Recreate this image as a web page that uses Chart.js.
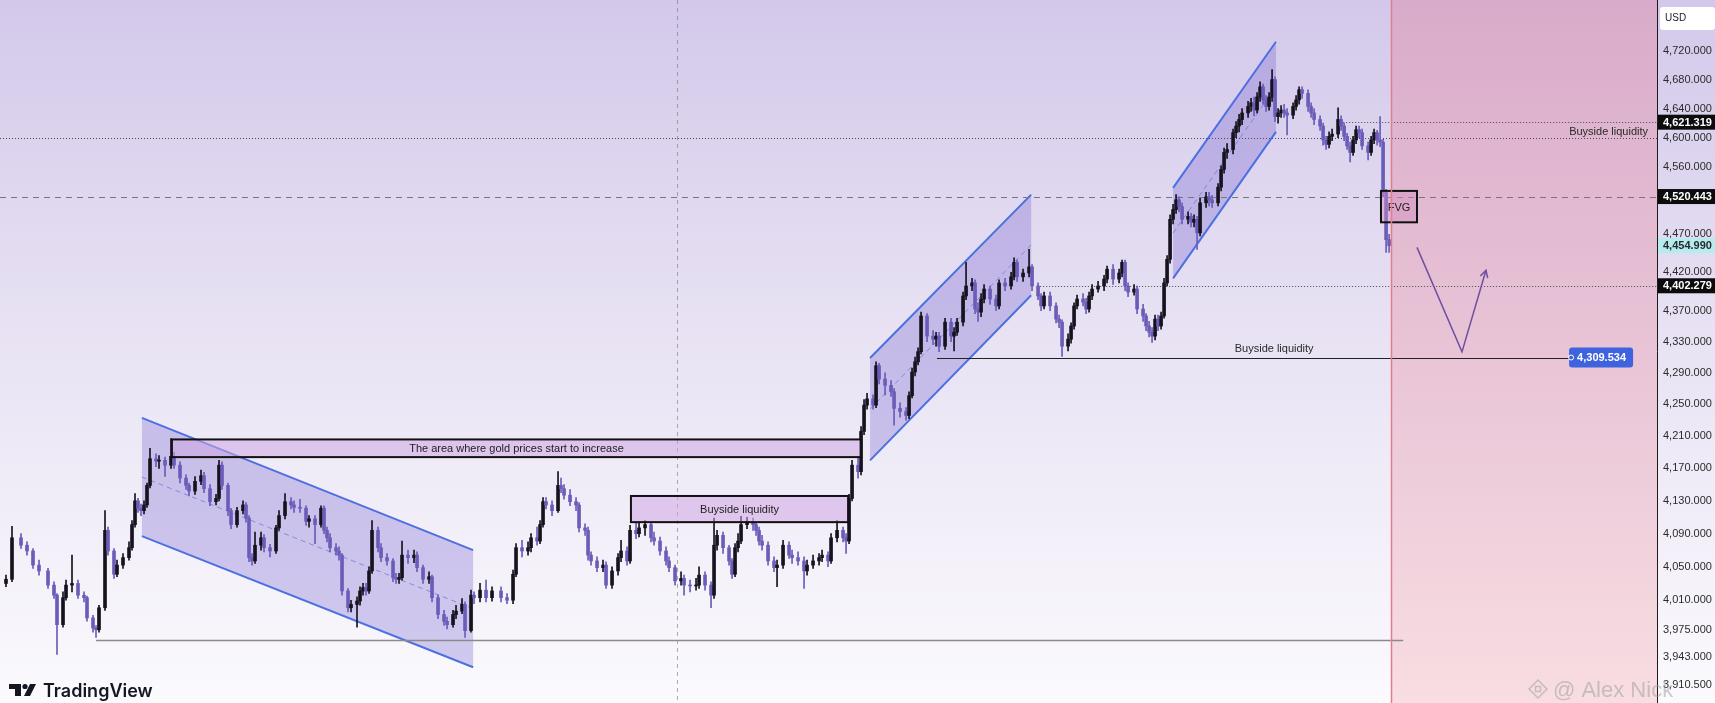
<!DOCTYPE html>
<html>
<head>
<meta charset="utf-8">
<title>XAUUSD - TradingView</title>
<script src="https://cdn.jsdelivr.net/npm/chart.js@4.4.1/dist/chart.umd.min.js"></script>
<style>
    html, body { margin: 0; padding: 0; background: #ffffff; }
    #wrap { position: relative; width: 1715px; height: 703px; }
</style>
</head>
<body>
<div id="wrap"><canvas id="myChart"></canvas></div>
<script>
// bar number of each candle (time axis), and its close / high / low
var bars = [
    2, 4, 7, 9, 11, 13, 16, 18, 19, 21,
    22, 24, 26, 28, 29, 31, 32, 33, 35, 36,
    38, 39, 41, 43, 44, 45, 46, 47, 48, 49,
    50, 52, 53, 55, 57, 58, 60, 62, 63, 65,
    67, 68, 70, 72, 73, 74, 76, 77, 79, 81,
    82, 83, 84, 85, 87, 88, 90, 92, 93, 95,
    97, 98, 100, 102, 103, 105, 107, 108, 109, 110,
    112, 113, 114, 116, 117, 119, 120, 121, 122, 123,
    124, 126, 127, 129, 131, 132, 133, 134, 136, 138,
    139, 141, 143, 144, 146, 148, 149, 151, 152, 154,
    155, 157, 158, 160, 162, 164, 167, 169, 171, 172,
    174, 176, 177, 179, 180, 181, 182, 184, 186, 187,
    188, 190, 192, 193, 195, 196, 197, 199, 201, 202,
    204, 206, 207, 209, 210, 212, 213, 215, 217, 218,
    220, 222, 223, 225, 227, 228, 230, 232, 233, 235,
    237, 238, 239, 241, 243, 244, 245, 246, 247, 249,
    251, 252, 253, 254, 256, 258, 259, 261, 263, 264,
    266, 268, 269, 271, 273, 274, 276, 277, 279, 281,
    282, 283, 284, 286, 287, 288, 289, 291, 292, 293,
    295, 297, 298, 300, 302, 303, 304, 305, 306, 307,
    309, 311, 312, 313, 315, 317, 318, 319, 321, 322,
    324, 325, 326, 327, 328, 330, 332, 333, 335, 337,
    338, 339, 341, 343, 344, 346, 347, 348, 350, 352,
    353, 354, 356, 357, 358, 359, 361, 362, 363, 364,
    366, 368, 369, 371, 373, 374, 375, 376, 378, 379,
    381, 382, 383, 384, 385, 386, 387, 388, 389, 390,
    391, 392, 393, 394, 396, 397, 398, 399, 400, 402,
    403, 404, 406, 407, 408, 409, 411, 412, 413, 414,
    416, 417, 418, 419, 420, 421, 422, 423, 424, 425,
    426, 427, 428, 429, 431, 432, 433, 434, 436, 437,
    438, 440, 441, 442, 443, 444, 446, 447, 448, 449,
    450, 451, 452, 453, 454, 456, 457, 458, 459, 460,
    461, 462, 463
];
var closes = [
    4035, 4085, 4076, 4069, 4052, 4045, 4028, 4016, 3981, 4013,
    4028, 4030, 4016, 4013, 3989, 3977, 3975, 4001, 4094, 4069,
    4041, 4052, 4061, 4073, 4101, 4130, 4121, 4118, 4125, 4149,
    4182, 4179, 4180, 4174, 4185, 4174, 4158, 4149, 4142, 4154,
    4161, 4145, 4129, 4133, 4174, 4149, 4118, 4101, 4118, 4125,
    4109, 4061, 4057, 4076, 4085, 4073, 4069, 4097, 4112, 4129,
    4125, 4122, 4121, 4105, 4108, 4101, 4121, 4094, 4085, 4073,
    4069, 4064, 4021, 4001, 4005, 4009, 4021, 4025, 4021, 4045,
    4094, 4073, 4061, 4057, 4037, 4035, 4037, 4064, 4061, 4064,
    4049, 4035, 4038, 4013, 3993, 3985, 3981, 3993, 3997, 4005,
    3974, 4016, 4013, 4022, 4013, 4021, 4013, 4010, 4041, 4073,
    4069, 4073, 4085, 4081, 4101, 4129, 4125, 4118, 4149, 4145,
    4137, 4129, 4125, 4097, 4094, 4064, 4057, 4049, 4052, 4028,
    4045, 4061, 4069, 4057, 4094, 4090, 4097, 4101, 4085, 4081,
    4069, 4057, 4049, 4033, 4036, 4028, 4027, 4028, 4040, 4028,
    4016, 4076, 4088, 4073, 4057, 4041, 4073, 4081, 4101, 4105,
    4101, 4094, 4081, 4076, 4057, 4049, 4052, 4076, 4064, 4061,
    4057, 4045, 4052, 4057, 4061, 4064, 4057, 4085, 4094, 4085,
    4081, 4133, 4174, 4166, 4216, 4249, 4257, 4249, 4299, 4282,
    4274, 4266, 4245, 4241, 4236, 4261, 4291, 4304, 4317, 4363,
    4337, 4333, 4337, 4324, 4355, 4337, 4342, 4355, 4389, 4402,
    4406, 4372, 4368, 4385, 4398, 4385, 4376, 4406, 4402, 4414,
    4433, 4414, 4419, 4427, 4402, 4389, 4376, 4389, 4376, 4359,
    4355, 4324, 4333, 4350, 4376, 4385, 4381, 4372, 4389, 4398,
    4402, 4411, 4424, 4411, 4419, 4433, 4402, 4394, 4398, 4372,
    4363, 4350, 4342, 4337, 4359, 4350, 4363, 4406, 4437, 4490,
    4503, 4516, 4507, 4490, 4494, 4486, 4490, 4472, 4512, 4520,
    4516, 4512, 4533, 4557, 4580, 4584, 4607, 4616, 4625, 4634,
    4643, 4648, 4638, 4656, 4670, 4652, 4643, 4656, 4680, 4629,
    4634, 4638, 4634, 4631, 4643, 4652, 4666, 4661, 4643, 4634,
    4625, 4616, 4597, 4591, 4602, 4605, 4625, 4616, 4602, 4589,
    4580, 4597, 4611, 4607, 4589, 4580, 4597, 4607, 4597, 4594,
    4526, 4463, 4455
];
var highs = [
    4040, 4099, 4090, 4080, 4072, 4058, 4048, 4032, 4018, 4020,
    4034, 4064, 4034, 4020, 4015, 3992, 3980, 4004, 4118, 4098,
    4072, 4058, 4066, 4080, 4106, 4139, 4133, 4126, 4130, 4152,
    4195, 4188, 4186, 4184, 4207, 4190, 4178, 4162, 4152, 4160,
    4168, 4165, 4150, 4138, 4180, 4178, 4152, 4121, 4122, 4130,
    4128, 4112, 4066, 4092, 4092, 4089, 4077, 4100, 4118, 4139,
    4134, 4130, 4132, 4124, 4112, 4112, 4124, 4124, 4098, 4090,
    4078, 4074, 4066, 4024, 4010, 4014, 4026, 4030, 4030, 4050,
    4106, 4098, 4078, 4066, 4060, 4042, 4042, 4081, 4070, 4070,
    4068, 4052, 4044, 4040, 4016, 3998, 3990, 3998, 4004, 4012,
    4008, 4022, 4020, 4030, 4034, 4026, 4026, 4018, 4046, 4078,
    4082, 4080, 4090, 4098, 4106, 4134, 4134, 4130, 4166, 4158,
    4150, 4144, 4134, 4128, 4102, 4098, 4068, 4062, 4058, 4056,
    4050, 4066, 4082, 4074, 4100, 4104, 4104, 4106, 4104, 4092,
    4086, 4074, 4062, 4052, 4044, 4040, 4034, 4036, 4050, 4044,
    4032, 4109, 4094, 4092, 4076, 4060, 4078, 4090, 4111, 4110,
    4109, 4104, 4098, 4088, 4080, 4062, 4058, 4082, 4080, 4070,
    4068, 4062, 4058, 4064, 4066, 4070, 4068, 4090, 4106, 4098,
    4090, 4138, 4180, 4184, 4222, 4256, 4264, 4262, 4304, 4302,
    4290, 4280, 4270, 4252, 4246, 4266, 4296, 4310, 4322, 4368,
    4366, 4344, 4342, 4342, 4360, 4360, 4348, 4360, 4394, 4433,
    4412, 4410, 4380, 4392, 4404, 4402, 4390, 4410, 4412, 4420,
    4439, 4436, 4424, 4450, 4430, 4406, 4392, 4394, 4394, 4380,
    4364, 4358, 4340, 4354, 4380, 4390, 4392, 4386, 4394, 4404,
    4408, 4416, 4428, 4430, 4424, 4436, 4436, 4406, 4404, 4402,
    4378, 4366, 4356, 4348, 4364, 4364, 4368, 4412, 4442, 4496,
    4510, 4523, 4520, 4512, 4500, 4498, 4496, 4494, 4518, 4526,
    4526, 4522, 4538, 4562, 4586, 4592, 4612, 4622, 4632, 4640,
    4650, 4654, 4656, 4662, 4677, 4674, 4658, 4662, 4694, 4684,
    4640, 4644, 4646, 4640, 4648, 4658, 4670, 4670, 4666, 4648,
    4640, 4630, 4620, 4602, 4608, 4612, 4641, 4630, 4620, 4606,
    4594, 4602, 4616, 4616, 4612, 4594, 4602, 4612, 4610, 4629,
    4598, 4530, 4470
];
var lows = [
    4026, 4032, 4072, 4064, 4048, 4040, 4024, 4012, 3946, 3978,
    4010, 4020, 4012, 4008, 3985, 3972, 3966, 3972, 3998, 4064,
    4036, 4038, 4048, 4058, 4070, 4098, 4116, 4112, 4114, 4122,
    4146, 4172, 4170, 4160, 4170, 4170, 4152, 4144, 4136, 4138,
    4150, 4140, 4124, 4125, 4130, 4144, 4112, 4096, 4098, 4114,
    4104, 4056, 4052, 4054, 4070, 4068, 4062, 4066, 4094, 4108,
    4120, 4116, 4116, 4100, 4098, 4078, 4098, 4090, 4080, 4068,
    4064, 4058, 4016, 3996, 3996, 3978, 4004, 4016, 4016, 4018,
    4042, 4068, 4056, 4052, 4032, 4030, 4030, 4034, 4054, 4055,
    4044, 4030, 4030, 4008, 3988, 3980, 3976, 3978, 3988, 3994,
    3966, 3972, 4006, 4008, 4008, 4009, 4008, 4006, 4006, 4038,
    4062, 4064, 4068, 4076, 4078, 4098, 4120, 4112, 4116, 4140,
    4132, 4124, 4118, 4092, 4088, 4058, 4052, 4044, 4044, 4024,
    4024, 4040, 4056, 4052, 4054, 4084, 4086, 4088, 4080, 4076,
    4064, 4052, 4044, 4028, 4028, 4016, 4020, 4022, 4024, 4022,
    4001, 4012, 4070, 4066, 4052, 4036, 4038, 4068, 4078, 4096,
    4094, 4088, 4076, 4070, 4052, 4044, 4026, 4048, 4060, 4054,
    4052, 4024, 4040, 4048, 4052, 4056, 4050, 4054, 4080, 4080,
    4066, 4078, 4130, 4158, 4162, 4212, 4244, 4244, 4246, 4276,
    4262, 4260, 4224, 4234, 4230, 4232, 4258, 4286, 4300, 4314,
    4330, 4326, 4324, 4317, 4320, 4330, 4318, 4338, 4350, 4384,
    4396, 4366, 4356, 4362, 4380, 4378, 4370, 4372, 4396, 4398,
    4410, 4408, 4408, 4414, 4396, 4384, 4370, 4372, 4370, 4354,
    4348, 4311, 4318, 4328, 4346, 4372, 4376, 4366, 4368, 4384,
    4394, 4396, 4406, 4404, 4406, 4414, 4396, 4388, 4390, 4366,
    4356, 4344, 4336, 4329, 4332, 4344, 4346, 4360, 4402, 4432,
    4484, 4498, 4500, 4484, 4484, 4480, 4480, 4450, 4468, 4506,
    4508, 4506, 4508, 4528, 4552, 4572, 4578, 4600, 4608, 4618,
    4628, 4636, 4630, 4634, 4650, 4646, 4636, 4638, 4650, 4622,
    4620, 4628, 4628, 4604, 4626, 4638, 4646, 4654, 4636, 4628,
    4618, 4610, 4590, 4584, 4586, 4596, 4600, 4610, 4596, 4584,
    4567, 4576, 4592, 4600, 4584, 4570, 4576, 4592, 4590, 4588,
    4520, 4446, 4446
];
var firstOpen = 4030; // every later bar opens at the previous close

var yTicks = [4720, 4680, 4640, 4600, 4560, 4470, 4420, 4370, 4330, 4290, 4250,
    4210, 4170, 4130, 4090, 4050, 4010, 3975, 3943, 3910.5];
var markedPrices = [4621.319, 4520.443, 4402.279];
var lastPrice = 4454.990;

// drawings (bar number, price)
var channelDownTop = [[47.3, 4233], [157.7, 4070]];
var channelDownBottom = [[47.3, 4087], [157.7, 3931]];
var channelUpTop = [[290, 4309], [343.7, 4523]];
var channelUpBottom = [[290, 4180], [343.7, 4390]];
var channelUp2Top = [[391, 4532], [425.3, 4733]];
var channelUp2Bottom = [[391, 4412], [425.3, 4608]];
var areaBox = [57.3, 287, 4184, 4206];      // from, to, low, high
var liquidityBox = [210.3, 282.7, 4104, 4136];
var fvgBox = [460.3, 472.3, 4486, 4528];
var buysideHigh = 4599;
var liquidityLevel = 4309.534;
var liquidityFrom = 312.3, liquidityTo = 523;
var swingLow = 3963.4, swingLowFrom = 32, swingLowTo = 467.7;
var markedFrom = [446.7, 0, 345.7];
var forecastPath = [[472.3, 4452.7], [487.3, 4316.7], [495.3, 4422.6]];
var crosshairBar = 225.7;
var sessionBar = 463.7;

var UP = '#16131f', DOWN = '#6b5cb8';

var opens = [], colors = [], wickData = [], bodyData = [];
for (var i = 0; i < bars.length; i++) {
    opens.push(i === 0 ? firstOpen : closes[i - 1]);
    colors.push(closes[i] >= opens[i] ? UP : DOWN);
    wickData.push({x: bars[i], y: [lows[i], highs[i]]});
    bodyData.push({x: bars[i], y: [opens[i], closes[i]]});
}

var xPix = function (chart, v) { return chart.scales.x.getPixelForValue(v); };
var yPix = function (chart, v) { return chart.scales.y.getPixelForValue(v); };
var fmtPrice = function (v) {
    return v.toLocaleString('en-US', {minimumFractionDigits: 3, maximumFractionDigits: 3});
};

var hLine = function (ctx, chart, price, from, to, color, width, dash) {
    var y = Math.round(yPix(chart, price)) + 0.5;
    ctx.save();
    ctx.strokeStyle = color;
    ctx.lineWidth = width;
    ctx.setLineDash(dash);
    ctx.beginPath();
    ctx.moveTo(xPix(chart, from), y);
    ctx.lineTo(to === null ? chart.chartArea.right : xPix(chart, to), y);
    ctx.stroke();
    ctx.restore();
};

var drawChannel = function (ctx, chart, top, bottom) {
    var a = [xPix(chart, top[0][0]), yPix(chart, top[0][1])];
    var b = [xPix(chart, top[1][0]), yPix(chart, top[1][1])];
    var c = [xPix(chart, bottom[1][0]), yPix(chart, bottom[1][1])];
    var d = [xPix(chart, bottom[0][0]), yPix(chart, bottom[0][1])];
    ctx.save();
    ctx.fillStyle = 'rgba(112, 92, 205, 0.3)';
    ctx.beginPath();
    ctx.moveTo(a[0], a[1]);
    ctx.lineTo(b[0], b[1]);
    ctx.lineTo(c[0], c[1]);
    ctx.lineTo(d[0], d[1]);
    ctx.closePath();
    ctx.fill();
    ctx.strokeStyle = 'rgba(95, 115, 215, 0.7)';
    ctx.lineWidth = 1;
    ctx.setLineDash([5, 4]);
    ctx.beginPath();
    ctx.moveTo(a[0], (a[1] + d[1]) / 2);
    ctx.lineTo(b[0], (b[1] + c[1]) / 2);
    ctx.stroke();
    ctx.setLineDash([]);
    ctx.strokeStyle = '#4d70e0';
    ctx.lineWidth = 2;
    ctx.beginPath();
    ctx.moveTo(a[0], a[1]);
    ctx.lineTo(b[0], b[1]);
    ctx.moveTo(d[0], d[1]);
    ctx.lineTo(c[0], c[1]);
    ctx.stroke();
    ctx.restore();
};

var drawBox = function (ctx, chart, box, fill, text) {
    var x1 = xPix(chart, box[0]), x2 = xPix(chart, box[1]);
    var y1 = yPix(chart, box[3]), y2 = yPix(chart, box[2]);
    ctx.save();
    ctx.fillStyle = fill;
    ctx.fillRect(x1, y1, x2 - x1, y2 - y1);
    ctx.strokeStyle = '#111111';
    ctx.lineWidth = 2;
    ctx.strokeRect(x1, y1, x2 - x1, y2 - y1);
    ctx.fillStyle = '#222222';
    ctx.font = '11px "Liberation Sans", Arial, sans-serif';
    ctx.textAlign = 'center';
    ctx.textBaseline = 'middle';
    ctx.fillText(text, (x1 + x2) / 2, (y1 + y2) / 2 + 1);
    ctx.restore();
};

var axisTag = function (ctx, chart, price, bg, fg) {
    var y = yPix(chart, price), x0 = chart.chartArea.right + 1;
    ctx.fillStyle = bg;
    ctx.fillRect(x0, y - 7.5, chart.width - x0, 15);
    ctx.fillStyle = fg;
    ctx.font = 'bold 11px "Liberation Sans", Arial, sans-serif';
    ctx.textAlign = 'left';
    ctx.textBaseline = 'middle';
    ctx.fillText(fmtPrice(price), x0 + 5, y + 0.5);
};

var chartDecor = {
    id: 'chartDecor',
    beforeDraw: function (chart) {
        var ctx = chart.ctx, a = chart.chartArea, H = chart.height;
        ctx.save();
        var g = ctx.createLinearGradient(0, 0, 0, H);
        g.addColorStop(0, '#d3c8ea');
        g.addColorStop(0.45, '#e7e1f3');
        g.addColorStop(1, '#fbfafd');
        ctx.fillStyle = g;
        ctx.fillRect(0, 0, chart.width, H);
        var xs = xPix(chart, sessionBar);
        var pg = ctx.createLinearGradient(0, 0, 0, H);
        pg.addColorStop(0, '#d9abca');
        pg.addColorStop(1, '#f8dde2');
        ctx.fillStyle = pg;
        ctx.fillRect(xs, a.top, a.right - xs, a.bottom - a.top);
        ctx.restore();
    },
    beforeDatasetsDraw: function (chart) {
        var ctx = chart.ctx, a = chart.chartArea;
        // crosshair
        ctx.save();
        ctx.strokeStyle = 'rgba(110, 110, 110, 0.55)';
        ctx.setLineDash([4, 4]);
        var cx = Math.round(xPix(chart, crosshairBar)) + 0.5;
        ctx.beginPath();
        ctx.moveTo(cx, a.top);
        ctx.lineTo(cx, a.bottom);
        ctx.stroke();
        ctx.restore();

        drawChannel(ctx, chart, channelDownTop, channelDownBottom);
        drawChannel(ctx, chart, channelUpTop, channelUpBottom);
        drawChannel(ctx, chart, channelUp2Top, channelUp2Bottom);

        hLine(ctx, chart, buysideHigh, 0, null, '#4a4a4a', 1, [1, 2]);
        hLine(ctx, chart, markedPrices[0], markedFrom[0], null, '#4a4a4a', 1, [1, 2]);
        hLine(ctx, chart, markedPrices[1], markedFrom[1], null, '#777777', 1, [6, 5]);
        hLine(ctx, chart, markedPrices[2], markedFrom[2], null, '#4a4a4a', 1, [1, 2]);
        hLine(ctx, chart, liquidityLevel, liquidityFrom, liquidityTo, '#222222', 1, []);
        hLine(ctx, chart, swingLow, swingLowFrom, swingLowTo, '#8a8a8a', 1.5, []);
    },
    afterDatasetsDraw: function (chart) {
        var ctx = chart.ctx, a = chart.chartArea;
        drawBox(ctx, chart, areaBox, 'rgba(208, 165, 228, 0.55)', 'The area where gold prices start to increase');
        drawBox(ctx, chart, liquidityBox, 'rgba(208, 165, 228, 0.55)', 'Buyside liquidity');
        drawBox(ctx, chart, fvgBox, 'rgba(212, 140, 192, 0.45)', 'FVG');

        // session line
        ctx.save();
        var sx = Math.round(xPix(chart, sessionBar)) + 0.5;
        ctx.strokeStyle = '#e27d8a';
        ctx.lineWidth = 1.5;
        ctx.beginPath();
        ctx.moveTo(sx, a.top);
        ctx.lineTo(sx, a.bottom);
        ctx.stroke();

        // forecast arrow
        ctx.strokeStyle = '#6f4f9f';
        ctx.lineWidth = 1.5;
        ctx.beginPath();
        for (var i = 0; i < forecastPath.length; i++) {
            var px = xPix(chart, forecastPath[i][0]), py = yPix(chart, forecastPath[i][1]);
            if (i === 0) ctx.moveTo(px, py); else ctx.lineTo(px, py);
        }
        ctx.stroke();
        var n = forecastPath.length;
        var ex = xPix(chart, forecastPath[n - 1][0]), ey = yPix(chart, forecastPath[n - 1][1]);
        var ang = Math.atan2(ey - yPix(chart, forecastPath[n - 2][1]), ex - xPix(chart, forecastPath[n - 2][0]));
        ctx.beginPath();
        ctx.moveTo(ex - 8 * Math.cos(ang - 0.5), ey - 8 * Math.sin(ang - 0.5));
        ctx.lineTo(ex, ey);
        ctx.lineTo(ex - 8 * Math.cos(ang + 0.5), ey - 8 * Math.sin(ang + 0.5));
        ctx.stroke();

        // labels on lines
        ctx.fillStyle = '#2a2a2a';
        ctx.font = '11px "Liberation Sans", Arial, sans-serif';
        ctx.textAlign = 'center';
        ctx.textBaseline = 'bottom';
        ctx.fillText('Buyside liquidity', xPix(chart, 424.7), yPix(chart, liquidityLevel) - 3);
        ctx.textAlign = 'right';
        ctx.fillText('Buyside liquidity', xPix(chart, 549.3), yPix(chart, buysideHigh) - 1);

        // price badge
        var by = yPix(chart, liquidityLevel), bx = xPix(chart, liquidityTo);
        ctx.fillStyle = '#3f63df';
        ctx.beginPath();
        ctx.roundRect(bx, by - 10, 64, 20, 3);
        ctx.fill();
        ctx.fillStyle = '#ffffff';
        ctx.font = 'bold 11px "Liberation Sans", Arial, sans-serif';
        ctx.textAlign = 'left';
        ctx.textBaseline = 'middle';
        ctx.fillText(fmtPrice(liquidityLevel), bx + 8, by + 0.5);
        ctx.strokeStyle = '#ffffff';
        ctx.lineWidth = 1;
        ctx.beginPath();
        ctx.arc(bx + 2, by, 2.5, 0, Math.PI * 2);
        ctx.stroke();
        ctx.restore();
    },
    afterDraw: function (chart) {
        var ctx = chart.ctx, a = chart.chartArea;
        ctx.save();
        ctx.strokeStyle = '#1c1c1c';
        ctx.lineWidth = 1;
        ctx.beginPath();
        ctx.moveTo(a.right + 0.5, 0);
        ctx.lineTo(a.right + 0.5, chart.height);
        ctx.stroke();

        axisTag(ctx, chart, markedPrices[0], '#0c0c0c', '#ffffff');
        axisTag(ctx, chart, markedPrices[1], '#0c0c0c', '#ffffff');
        axisTag(ctx, chart, markedPrices[2], '#0c0c0c', '#ffffff');
        axisTag(ctx, chart, lastPrice, '#b4ecef', '#2a2a2a');

        // currency box
        ctx.fillStyle = '#ffffff';
        ctx.beginPath();
        ctx.roundRect(a.right + 3, 7, chart.width - a.right - 3, 23, 3);
        ctx.fill();
        ctx.fillStyle = '#222222';
        ctx.font = '10px "Liberation Sans", Arial, sans-serif';
        ctx.textAlign = 'left';
        ctx.textBaseline = 'middle';
        ctx.fillText('USD', a.right + 8, 18.5);

        // TradingView logo
        ctx.fillStyle = '#131722';
        ctx.fillRect(9, 684, 12, 5);
        ctx.fillRect(15, 684, 6, 12);
        ctx.beginPath();
        ctx.arc(25, 686.5, 2.6, 0, Math.PI * 2);
        ctx.fill();
        ctx.beginPath();
        ctx.moveTo(30, 684);
        ctx.lineTo(36, 684);
        ctx.lineTo(30, 696);
        ctx.lineTo(24, 696);
        ctx.closePath();
        ctx.fill();
        ctx.font = '600 18px Inter, "Open Sans", sans-serif';
        ctx.textBaseline = 'alphabetic';
        ctx.fillText('TradingView', 43, 697);

        // watermark
        ctx.strokeStyle = 'rgba(160, 160, 160, 0.55)';
        ctx.lineWidth = 1.5;
        ctx.beginPath();
        ctx.moveTo(1538, 680);
        ctx.lineTo(1547, 689);
        ctx.lineTo(1538, 698);
        ctx.lineTo(1529, 689);
        ctx.closePath();
        ctx.stroke();
        ctx.strokeRect(1535.5, 686.5, 5, 5);
        ctx.fillStyle = 'rgba(160, 160, 160, 0.55)';
        ctx.font = '22px "Liberation Sans", Arial, sans-serif';
        ctx.fillText('@ Alex Nick', 1553, 697);
        ctx.restore();
    }
};

var ctx = document.getElementById('myChart');
var myChart = new Chart(ctx, {
    type: 'bar',
    data: {
        datasets: [{
            label: 'wicks',
            data: wickData,
            backgroundColor: colors,
            barThickness: 1,
            grouped: false,
            order: 2
        }, {
            label: 'bodies',
            data: bodyData,
            backgroundColor: colors,
            barThickness: 3,
            minBarLength: 1,
            grouped: false,
            order: 1
        }]
    },
    options: {
        responsive: true,
        maintainAspectRatio: false,
        animation: false,
        layout: {padding: 0},
        plugins: {
            legend: {display: false},
            tooltip: {enabled: false}
        },
        scales: {
            x: {
                type: 'linear',
                min: 0,
                max: 552.3,
                offset: false,
                display: false
            },
            y: {
                type: 'logarithmic',
                position: 'right',
                min: 3889.5,
                max: 4792,
                grid: {display: false, drawTicks: false},
                border: {display: false},
                afterBuildTicks: function (scale) {
                    scale.ticks = yTicks.map(function (v) { return {value: v}; });
                },
                afterFit: function (scale) {
                    scale.width = 58;
                    scale.paddingTop = 0;
                    scale.paddingBottom = 0;
                },
                ticks: {
                    autoSkip: false,
                    padding: 6,
                    color: '#2b2b2b',
                    font: {family: '"Liberation Sans", Arial, sans-serif', size: 11},
                    callback: function (value) {
                        return fmtPrice(value);
                    }
                }
            }
        }
    },
    plugins: [chartDecor]
});
</script>
</body>
</html>
